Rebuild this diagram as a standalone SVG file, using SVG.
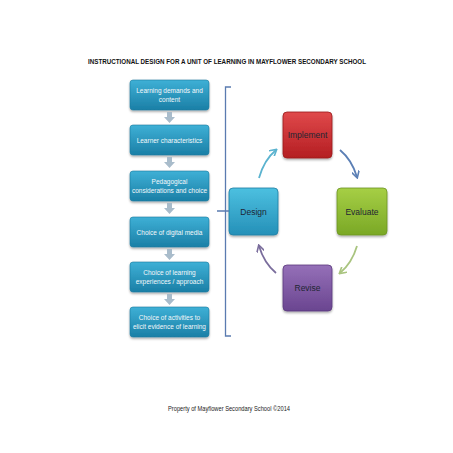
<svg xmlns="http://www.w3.org/2000/svg" width="453" height="453" viewBox="0 0 453 453">
<defs>
<linearGradient id="gBlue" x1="0" y1="0" x2="0" y2="1"><stop offset="0" stop-color="#3eb0d6"/><stop offset="1" stop-color="#1b7fa6"/></linearGradient>
<linearGradient id="gDesign" x1="0" y1="0" x2="0" y2="1"><stop offset="0" stop-color="#4cc0e0"/><stop offset="1" stop-color="#2590b8"/></linearGradient>
<linearGradient id="gRed" x1="0" y1="0" x2="0" y2="1"><stop offset="0" stop-color="#e0494b"/><stop offset="1" stop-color="#b41e22"/></linearGradient>
<linearGradient id="gGreen" x1="0" y1="0" x2="0" y2="1"><stop offset="0" stop-color="#a6cf45"/><stop offset="1" stop-color="#7aa826"/></linearGradient>
<linearGradient id="gPurple" x1="0" y1="0" x2="0" y2="1"><stop offset="0" stop-color="#9570b8"/><stop offset="1" stop-color="#6a4590"/></linearGradient>
<filter id="sh" x="-20%" y="-20%" width="140%" height="150%"><feDropShadow dx="0" dy="1.5" stdDeviation="1" flood-color="#000" flood-opacity="0.35"/></filter>
<marker id="mTeal" markerWidth="8" markerHeight="8" refX="6" refY="4" orient="auto" markerUnits="userSpaceOnUse"><path d="M0,0 L7,4 L0,8" fill="none" stroke="#5bb3cf" stroke-width="1.6"/></marker>
<marker id="mBlue" markerWidth="8" markerHeight="8" refX="6" refY="4" orient="auto" markerUnits="userSpaceOnUse"><path d="M0,0 L7,4 L0,8" fill="none" stroke="#5b7fb5" stroke-width="1.6"/></marker>
<marker id="mGreen" markerWidth="8" markerHeight="8" refX="6" refY="4" orient="auto" markerUnits="userSpaceOnUse"><path d="M0,0 L7,4 L0,8" fill="none" stroke="#a9c47f" stroke-width="1.6"/></marker>
<marker id="mPurple" markerWidth="8" markerHeight="8" refX="6" refY="4" orient="auto" markerUnits="userSpaceOnUse"><path d="M0,0 L7,4 L0,8" fill="none" stroke="#7a6d9c" stroke-width="1.6"/></marker>
</defs>
<style>
.step{fill:url(#gBlue);stroke:#1a7aa0;stroke-width:0.6;filter:url(#sh)}
.st{font-family:"Liberation Sans",Arial,sans-serif;font-size:6.5px;fill:#f4f8fa;text-anchor:middle}
.cyc{stroke-width:0.8;filter:url(#sh)}
.ct{font-family:"Liberation Sans",Arial,sans-serif;font-size:8.5px;fill:#1e2633;text-anchor:middle}
.darr{fill:#a9bccb}
.arc{fill:none;stroke-width:1.8}
</style>
<rect width="453" height="453" fill="#ffffff"/>
<text x="227" y="64" font-family="'Liberation Sans',Arial,sans-serif" font-weight="bold" font-size="8" fill="#111" text-anchor="middle" textLength="278" lengthAdjust="spacingAndGlyphs">INSTRUCTIONAL DESIGN FOR A UNIT OF LEARNING IN MAYFLOWER SECONDARY SCHOOL</text>

<g id="step1"><rect class="step" x="130" y="80" width="79" height="30" rx="3"/><text class="st" x="169.5" y="93">Learning demands and</text><text class="st" x="169.5" y="102">content</text></g>
<g id="step2"><rect class="step" x="130" y="125" width="79" height="30" rx="3"/><text class="st" x="169.5" y="142.5">Learner characteristics</text></g>
<g id="step3"><rect class="step" x="130" y="171" width="79" height="30" rx="3"/><text class="st" x="169.5" y="184">Pedagogical</text><text class="st" x="169.5" y="193">considerations and choice</text></g>
<g id="step4"><rect class="step" x="130" y="217" width="79" height="30" rx="3"/><text class="st" x="169.5" y="234.5">Choice of digital media</text></g>
<g id="step5"><rect class="step" x="130" y="262" width="79" height="30" rx="3"/><text class="st" x="169.5" y="275">Choice of learning</text><text class="st" x="169.5" y="284">experiences / approach</text></g>
<g id="step6"><rect class="step" x="130" y="307" width="79" height="30" rx="3"/><text class="st" x="169.5" y="320">Choice of activities to</text><text class="st" x="169.5" y="329">elicit evidence of learning</text></g>

<g id="design"><rect class="cyc" x="229" y="188" width="49" height="47" rx="4" fill="url(#gDesign)" stroke="#1f7fa3"/><text class="ct" x="253.5" y="214.5">Design</text></g>
<g id="implement"><rect class="cyc" x="283" y="112" width="49" height="46" rx="4" fill="url(#gRed)" stroke="#9a1a1d"/><text class="ct" x="307.5" y="138">Implement</text></g>
<g id="evaluate"><rect class="cyc" x="337" y="188" width="50" height="47" rx="4" fill="url(#gGreen)" stroke="#6c9522"/><text class="ct" x="362" y="214.5">Evaluate</text></g>
<g id="revise"><rect class="cyc" x="283" y="265" width="49" height="46" rx="4" fill="url(#gPurple)" stroke="#5a3a7d"/><text class="ct" x="307.5" y="291">Revise</text></g>

<g id="connectors">
<path class="darr" d="M167,112 h5 v5 h3 l-5.5,6 l-5.5,-6 h3 z"/>
<path class="darr" d="M167,157 h5 v5 h3 l-5.5,6 l-5.5,-6 h3 z"/>
<path class="darr" d="M167,203 h5 v5 h3 l-5.5,6 l-5.5,-6 h3 z"/>
<path class="darr" d="M167,249 h5 v5 h3 l-5.5,6 l-5.5,-6 h3 z"/>
<path class="darr" d="M167,294 h5 v5 h3 l-5.5,6 l-5.5,-6 h3 z"/>
<path d="M231,87 H225.5 V336 H231 M217,211 H229" fill="none" stroke="#5a7bb0" stroke-width="1.3"/>
<path class="arc" stroke="#5bb3cf" d="M259,178 Q264,160 276,150" marker-end="url(#mTeal)"/>
<path class="arc" stroke="#5b7fb5" d="M340,150 Q352,160 357,177" marker-end="url(#mBlue)"/>
<path class="arc" stroke="#a9c47f" d="M357,246 Q352,263 340,273" marker-end="url(#mGreen)"/>
<path class="arc" stroke="#7a6d9c" d="M276,273 Q264,263 259,246" marker-end="url(#mPurple)"/>
</g>

<text x="229" y="411" font-family="'Liberation Sans',Arial,sans-serif" font-size="6.5" fill="#222" text-anchor="middle" textLength="122" lengthAdjust="spacingAndGlyphs">Property of Mayflower Secondary School ©2014</text>
</svg>
